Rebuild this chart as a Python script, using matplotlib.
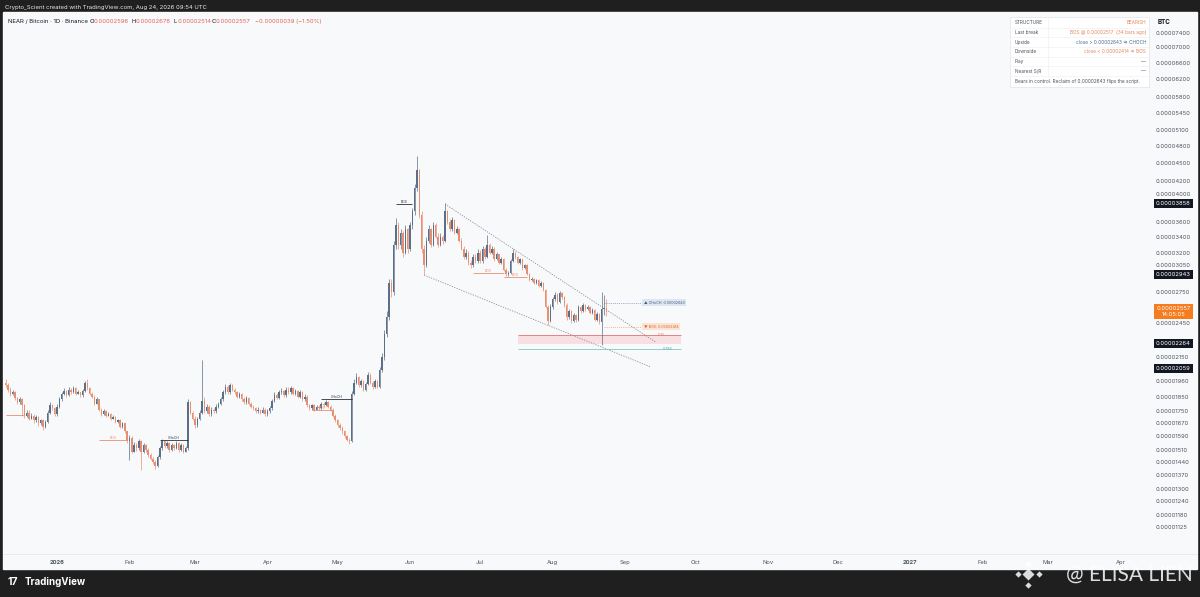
import numpy as np
import matplotlib.pyplot as plt
import matplotlib.dates as mdates
import pandas as pd
from matplotlib.patches import Rectangle
from matplotlib.ticker import NullLocator

plt.rcParams['font.family'] = ['Inter', 'DejaVu Sans']

# NEAR / BTC daily candles, prices in satoshi (1e-8 BTC)
dates = pd.date_range('2025-12-10', '2026-08-24', freq='D')
first_open = 1950

close_dec = [1930, 1900, 1870, 1880, 1840, 1810, 1830, 1790, 1720, 1740, 1700, 1720, 1690, 1710, 1670, 1690, 1650, 1680, 1740, 1790, 1770, 1730]
close_jan = [1780, 1830, 1870, 1890, 1860, 1900, 1880, 1910, 1870, 1880, 1860, 1890, 1950, 1910, 1870, 1850, 1800, 1830, 1760, 1730, 1750, 1720, 1730, 1700, 1710, 1680, 1690, 1650, 1670, 1620, 1560]
close_feb = [1580, 1500, 1540, 1520, 1560, 1500, 1540, 1510, 1480, 1460, 1440, 1420, 1470, 1520, 1560, 1530, 1550, 1510, 1540, 1520, 1550, 1510, 1540, 1500, 1520, 1810, 1740, 1700]
close_mar = [1660, 1700, 1740, 1820, 1750, 1780, 1730, 1760, 1750, 1780, 1800, 1830, 1880, 1920, 1880, 1930, 1900, 1880, 1850, 1870, 1830, 1810, 1840, 1800, 1780, 1770, 1750, 1760, 1740, 1760, 1730]
close_apr = [1750, 1770, 1820, 1860, 1840, 1880, 1890, 1860, 1900, 1880, 1910, 1870, 1890, 1850, 1880, 1830, 1850, 1790, 1770, 1790, 1760, 1780, 1770, 1800, 1790, 1810, 1780, 1760, 1720, 1690]
close_may = [1660, 1640, 1620, 1590, 1570, 1560, 1870, 1950, 1990, 1930, 1960, 1900, 1940, 2010, 1950, 1920, 1960, 1920, 2050, 2150, 2350, 2500, 2850, 2750, 3300, 3550, 3300, 3450, 3200, 3500, 3250]
close_jun = [3550, 3750, 4100, 4380, 3700, 3250, 3050, 3350, 3500, 3300, 3550, 3400, 3300, 3400, 3350, 3750, 3600, 3500, 3620, 3450, 3500, 3350, 3250, 3150, 3200, 3080, 3050, 3150, 3100, 3200]
close_jul = [3100, 3250, 3150, 3300, 3200, 3250, 3120, 3180, 3080, 3120, 3000, 2950, 2960, 3100, 3200, 3150, 3080, 3120, 3020, 3050, 2950, 2880, 2900, 2850, 2880, 2820, 2850, 2780, 2600, 2470, 2600]
close_aug = [2680, 2720, 2650, 2740, 2700, 2620, 2500, 2560, 2470, 2520, 2480, 2600, 2560, 2620, 2580, 2600, 2540, 2570, 2480, 2530, 2460, 2580, 2596, 2557]

high_dec = [1975, 1945, 1915, 1900, 1890, 1850, 1845, 1840, 1800, 1760, 1755, 1735, 1730, 1725, 1720, 1700, 1700, 1690, 1755, 1810, 1800, 1780]
high_jan = [1795, 1845, 1885, 1910, 1900, 1915, 1910, 1925, 1915, 1895, 1885, 1905, 1965, 1975, 1920, 1880, 1860, 1845, 1835, 1770, 1765, 1760, 1745, 1740, 1725, 1715, 1700, 1695, 1680, 1675, 1625]
high_feb = [1600, 1590, 1555, 1550, 1575, 1570, 1550, 1545, 1520, 1490, 1470, 1450, 1480, 1530, 1575, 1570, 1560, 1555, 1550, 1545, 1560, 1555, 1550, 1545, 1530, 1830, 1820, 1750]
high_mar = [1720, 1710, 1755, 2130, 1850, 1800, 1790, 1775, 1770, 1795, 1815, 1845, 1900, 1940, 1930, 1950, 1940, 1910, 1890, 1885, 1875, 1845, 1855, 1850, 1810, 1790, 1780, 1775, 1765, 1775, 1770]
high_apr = [1765, 1785, 1835, 1880, 1875, 1895, 1910, 1900, 1915, 1915, 1925, 1920, 1905, 1900, 1895, 1890, 1865, 1860, 1800, 1800, 1800, 1790, 1790, 1815, 1810, 1825, 1820, 1790, 1770, 1730]
high_may = [1700, 1670, 1655, 1630, 1600, 1580, 1890, 1980, 2020, 2000, 1980, 1970, 1955, 2030, 2020, 1960, 1975, 1970, 2070, 2180, 2380, 2560, 2900, 2900, 3350, 3650, 3600, 3500, 3480, 3560, 3520]
high_jun = [3600, 3800, 4150, 4620, 4400, 3750, 3300, 3400, 3560, 3520, 3600, 3580, 3450, 3450, 3420, 3870, 3760, 3640, 3660, 3640, 3540, 3520, 3380, 3280, 3240, 3220, 3110, 3180, 3180, 3240]
high_jul = [3230, 3280, 3270, 3420, 3320, 3280, 3270, 3210, 3190, 3150, 3140, 3020, 2990, 3120, 3240, 3220, 3160, 3140, 3130, 3070, 3060, 2960, 2920, 2910, 2900, 2890, 2870, 2860, 2790, 2620, 2630]
high_aug = [2700, 2750, 2740, 2770, 2760, 2710, 2640, 2580, 2570, 2540, 2530, 2620, 2610, 2640, 2630, 2620, 2610, 2590, 2580, 2550, 2540, 2750, 2720, 2678]

low_dec = [1915, 1885, 1855, 1860, 1825, 1795, 1800, 1715, 1705, 1710, 1690, 1695, 1675, 1680, 1655, 1660, 1630, 1640, 1670, 1730, 1755, 1715]
low_jan = [1720, 1770, 1820, 1860, 1850, 1855, 1870, 1875, 1860, 1865, 1845, 1850, 1880, 1900, 1860, 1840, 1790, 1795, 1750, 1715, 1725, 1710, 1715, 1690, 1695, 1670, 1675, 1640, 1640, 1610, 1550]
low_feb = [1450, 1490, 1495, 1505, 1510, 1400, 1490, 1500, 1470, 1450, 1430, 1405, 1415, 1460, 1510, 1520, 1520, 1500, 1505, 1510, 1515, 1500, 1505, 1490, 1495, 1510, 1730, 1690]
low_mar = [1640, 1650, 1690, 1730, 1735, 1740, 1720, 1720, 1735, 1740, 1770, 1790, 1820, 1870, 1870, 1870, 1890, 1870, 1840, 1840, 1820, 1800, 1800, 1790, 1770, 1760, 1740, 1740, 1730, 1735, 1720]
low_apr = [1720, 1740, 1760, 1810, 1830, 1830, 1870, 1850, 1850, 1870, 1870, 1860, 1860, 1840, 1840, 1820, 1820, 1780, 1760, 1760, 1750, 1755, 1760, 1760, 1780, 1785, 1770, 1750, 1710, 1680]
low_may = [1650, 1630, 1605, 1580, 1560, 1545, 1555, 1860, 1940, 1920, 1920, 1890, 1890, 1930, 1940, 1905, 1910, 1910, 1910, 2030, 2130, 2320, 2480, 2700, 2720, 3250, 3250, 3250, 3150, 3180, 3200]
low_jun = [3220, 3500, 3700, 4050, 3650, 3200, 2940, 3030, 3320, 3270, 3280, 3380, 3270, 3280, 3310, 3330, 3570, 3470, 3480, 3430, 3430, 3330, 3230, 3120, 3120, 3050, 3020, 3030, 3080, 3080]
low_jul = [3080, 3080, 3130, 3140, 3180, 3180, 3100, 3110, 3060, 3070, 2980, 2930, 2930, 2950, 3090, 3130, 3060, 3070, 3000, 3010, 2940, 2870, 2870, 2840, 2840, 2810, 2810, 2770, 2590, 2430, 2460]
low_aug = [2580, 2660, 2630, 2640, 2680, 2600, 2480, 2490, 2450, 2460, 2460, 2470, 2540, 2550, 2560, 2570, 2530, 2530, 2470, 2470, 2440, 2250, 2520, 2514]

# market-structure levels: (start, end, price, label, colour)
struct_levels = [
    ('2025-12-10', '2025-12-18', 1724, '', 'bear'),
    ('2026-01-19', '2026-01-31', 1567, 'BOS', 'bear'),
    ('2026-02-14', '2026-02-26', 1567, 'CHoCH', 'bull'),
    ('2026-04-20', '2026-04-29', 1757, 'BOS', 'bear'),
    ('2026-04-24', '2026-05-07', 1830, 'CHoCH', 'bull'),
    ('2026-05-26', '2026-06-02', 3858, 'BOS', 'bull'),
    ('2026-06-28', '2026-07-11', 2960, 'BOS', 'bear'),
    ('2026-07-11', '2026-07-21', 2920, 'BOS', 'bear'),
]

# falling wedge trendlines (start, price, end, price)
wedge_upper = ('2026-06-16', 3850, '2026-09-14', 2277)
wedge_lower = ('2026-06-07', 2939, '2026-09-12', 2070)

choch_level = 2643
bos_level = 2414
zone_top, zone_bottom, zone_line = 2339, 2264, 2217

price_ticks = [7400, 7000, 6600, 6200, 5800, 5450, 5100, 4800, 4500, 4200, 4000, 3600, 3400,
               3200, 3050, 2750, 2450, 2150, 1960, 1850, 1750, 1670, 1590,
               1510, 1440, 1370, 1300, 1240, 1180, 1125]
black_tags = [3858, 2943, 2264, 2059]
month_ticks = pd.date_range('2026-01-01', '2027-04-01', freq='MS')
month_labels = ['2026', 'Feb', 'Mar', 'Apr', 'May', 'Jun', 'Jul', 'Aug', 'Sep', 'Oct', 'Nov', 'Dec',
                '2027', 'Feb', 'Mar', 'Apr']

SAT = 1e-8
BULL = '#5c6f86'
BEAR = '#e98f6f'
W, H = 1200, 597

closes = np.array(close_dec + close_jan + close_feb + close_mar + close_apr + close_may + close_jun + close_jul + close_aug) * SAT
highs = np.array(high_dec + high_jan + high_feb + high_mar + high_apr + high_may + high_jun + high_jul + high_aug) * SAT
lows = np.array(low_dec + low_jan + low_feb + low_mar + low_apr + low_may + low_jun + low_jul + low_aug) * SAT
opens = np.r_[first_open * SAT, closes[:-1]]  # 24h market: open = prior close

fig = plt.figure(figsize=(12, 5.97), dpi=100)
fig.patch.set_facecolor('#1f1f1f')

# pixel-space canvas behind and in front of the chart
bg = fig.add_axes([0, 0, 1, 1], zorder=0)
bg.set_xlim(0, W); bg.set_ylim(H, 0); bg.axis('off')
bg.add_patch(Rectangle((3, 12), 1194, 557, color='#f8f9fb'))
bg.plot([3, 1197], [553.5, 553.5], color='#e6e8ee', lw=0.6)

ax = fig.add_axes([5 / W, 1 - 553 / H, 1145 / W, 539 / H], zorder=1)
ax.set_facecolor('none')
for s in ax.spines.values():
    s.set_visible(False)
ax.set_yscale('log')
ax.set_ylim(1019 * SAT, 7947 * SAT)
t0 = mdates.date2num(pd.Timestamp('2026-01-01'))
ax.set_xlim(t0 - 22.24, t0 + 467.5)

x = mdates.date2num(dates)
up = closes >= opens
cols = np.where(up, BULL, BEAR)
ax.vlines(x, lows, highs, colors=cols, lw=0.5, zorder=3)
body = np.maximum(np.abs(closes - opens), closes * 0.003)
ax.bar(x, body, bottom=np.minimum(opens, closes), width=0.62, color=cols, lw=0, zorder=4)

# structure levels
for s, e, p, lab, kind in struct_levels:
    c = BEAR if kind == 'bear' else '#2a2e39'
    xs, xe = mdates.date2num(pd.Timestamp(s)), mdates.date2num(pd.Timestamp(e))
    ax.hlines(p * SAT, xs, xe, color=c, lw=0.6, zorder=5)
    if lab:
        ax.text((xs + xe) / 2, p * SAT, lab, fontsize=2.4, color=c, ha='center', va='bottom', zorder=6)

# wedge
for s, p1, e, p2 in (wedge_upper, wedge_lower):
    ax.plot([mdates.date2num(pd.Timestamp(s)), mdates.date2num(pd.Timestamp(e))], [p1 * SAT, p2 * SAT],
            color='#8a8f9a', lw=0.6, ls=(0, (1.5, 1.5)), zorder=2)

# demand zone
zs, ze = mdates.date2num(pd.Timestamp('2026-07-17')), mdates.date2num(pd.Timestamp('2026-09-25'))
ax.fill_between([zs, ze], zone_bottom * SAT, zone_top * SAT, color='#f9d9dc', alpha=0.8, lw=0, zorder=1)
ax.hlines(zone_top * SAT, zs, ze, color='#e57373', lw=0.6, zorder=2)
ax.hlines(zone_line * SAT, zs, ze, color='#7fc8c0', lw=0.6, zorder=2)
ax.text(ze - 10, zone_top * SAT, '0.75', fontsize=2.6, color='#e57373', va='center', ha='left')
ax.text(ze - 8, zone_line * SAT, '0.786', fontsize=2.6, color='#4fb0a6', va='center', ha='left')

# live CHoCH / BOS triggers
ls_ = mdates.date2num(pd.Timestamp('2026-08-23'))
le_ = mdates.date2num(pd.Timestamp('2026-09-08'))
ax.hlines(choch_level * SAT, ls_, le_, color='#7b8fb0', lw=0.5, ls=(0, (1.5, 1.5)), zorder=2)
ax.hlines(bos_level * SAT, ls_, le_, color='#e9a07f', lw=0.5, ls=(0, (1.5, 1.5)), zorder=2)
ax.text(le_ + 1, choch_level * SAT, '▲ CHoCH: %.8f' % (choch_level * SAT), fontsize=2.6, color='#3d5a80',
        va='center', ha='left', bbox=dict(boxstyle='square,pad=0.4', fc='#dde6f2', ec='none'))
ax.text(le_ + 1, bos_level * SAT, '▼ BOS: %.8f' % (bos_level * SAT), fontsize=2.6, color='#d2691e',
        va='center', ha='left', bbox=dict(boxstyle='square,pad=0.4', fc='#fbe3d6', ec='none'))

# axes ticks
ax.yaxis.tick_right()
ax.yaxis.set_minor_locator(NullLocator())
ax.set_yticks([p * SAT for p in price_ticks])
ax.set_yticklabels(['%.8f' % (p * SAT) for p in price_ticks])
ax.set_xticks(mdates.date2num(month_ticks))
ax.set_xticklabels(month_labels)
for lab in ax.get_xticklabels():
    if lab.get_text() in ('2026', '2027'):
        lab.set_fontweight('bold')
ax.tick_params(axis='y', length=0, labelsize=4.2, labelcolor='#50535e', pad=4)
ax.tick_params(axis='x', length=0, labelsize=4.2, labelcolor='#50535e', pad=5)

ytr = ax.get_yaxis_transform()
for p in black_tags:
    ax.text(1.0205, p * SAT, '%.8f' % (p * SAT), transform=ytr, fontsize=4.2, color='white', ha='center',
            va='center', clip_on=False, zorder=10, bbox=dict(boxstyle='square,pad=0.35', fc='#131722', ec='none'))
ax.text(1.0205, closes[-1], '%.8f\n14:05:05' % closes[-1], transform=ytr, fontsize=4.2, color='white',
        ha='center', va='center', linespacing=1.1, clip_on=False, zorder=10,
        bbox=dict(boxstyle='square,pad=0.35', fc='#f57c1f', ec='none'))

# foreground: header, table, branding
fg = fig.add_axes([0, 0, 1, 1], zorder=5)
fg.set_xlim(0, W); fg.set_ylim(H, 0); fg.axis('off')
fg.patch.set_alpha(0)

fg.text(5, 7, 'Crypto_Scient created with TradingView.com, Aug 24, 2026 09:54 UTC', fontsize=4.3,
        color='#e8e8e8', va='center')
RED = '#e0645a'
fg.text(8, 21.5, 'NEAR / Bitcoin · 1D · Binance', fontsize=4.3, color='#131722', va='center')
hdr = [(90, 'O', '0.00002596'), (132, 'H', '0.00002678'), (174, 'L', '0.00002514'), (212, 'C', '0.00002557')]
for px, k, v in hdr:
    fg.text(px, 21.5, k, fontsize=4.3, color='#131722', va='center')
    fg.text(px + 4, 21.5, v, fontsize=4.3, color=RED, va='center')
fg.text(255, 21.5, '−0.00000039 (−1.50%)', fontsize=4.3, color=RED, va='center')

fg.text(1158, 21.5, 'BTC', fontsize=4.5, color='#131722', va='center', fontweight='bold')

# status table
fg.add_patch(Rectangle((1010, 17), 139, 70, fc='white', ec='#e0e3eb', lw=0.5))
rows = [('STRUCTURE', 'BEARISH', '#e8875a'),
        ('Last break', 'BOS @ 0.00002517  (34 bars ago)', '#e8875a'),
        ('Upside', 'close > 0.00002643 ⇒ CHOCH', '#4a6d98'),
        ('Downside', 'close < 0.00002414 ⇒ BOS', '#e8875a'),
        ('Play', '—', '#50535e'),
        ('Nearest S/R', '—', '#50535e')]
for i, (k, v, c) in enumerate(rows):
    yy = 22.7 + i * 9.7
    fg.text(1015, yy, k, fontsize=3.4, color='#50535e', va='center')
    fg.text(1146, yy, v, fontsize=3.4, color=c, va='center', ha='right')
    fg.plot([1010, 1149], [yy + 4.85, yy + 4.85], color='#eceef2', lw=0.4)
fg.plot([1048, 1048], [17, 77], color='#eceef2', lw=0.4)
fg.text(1015, 81, 'Bears in control. Reclaim of 0.00002643 flips the script.', fontsize=3.4,
        color='#50535e', va='center')

fg.text(7, 582, '17', fontsize=7.5, color='white', va='center', fontweight='bold')
fg.text(25, 582, 'TradingView', fontsize=7, color='white', va='center', fontweight='bold')

for cx, cy, sz in [(1028, 574, 6), (1028, 563.5, 3.2), (1028, 584.5, 3.2), (1017.5, 574, 3.2), (1038.5, 574, 3.2)]:
    fg.plot(cx, cy, marker='D', ms=sz, color='white', alpha=0.85, mec='none')
fg.text(1193, 575, '@ ELISA LIEN', fontsize=15, color='white', alpha=0.85, va='center', ha='right',
        family=['Lato', 'DejaVu Sans'])

fig.savefig('out.png', dpi=100, facecolor=fig.get_facecolor())
